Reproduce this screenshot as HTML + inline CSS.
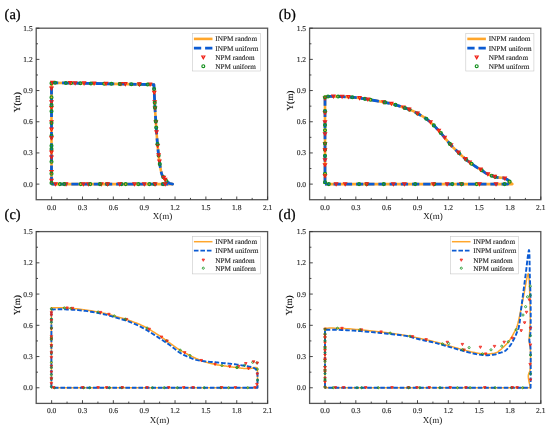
<!DOCTYPE html>
<html><head><meta charset="utf-8"><title>Figure</title>
<style>html,body{margin:0;padding:0;background:#fff}svg{display:block}svg text{text-rendering:geometricPrecision;font-family:"Liberation Serif","Times New Roman",serif}</style></head>
<body>
<svg width="550" height="429" viewBox="0 0 550 429">
<rect width="550" height="429" fill="#fff"/>
<g>
<path d="M51.5 184.1 L51.5 82.7 L153.9 84.6 L154.01 86.92 L154.15 89.99 L154.31 93.63 L154.49 97.7 L154.7 102.03 L154.92 106.46 L155.15 110.84 L155.4 115 L155.66 119.12 L155.94 123.44 L156.24 127.86 L156.55 132.3 L156.87 136.68 L157.21 140.91 L157.55 144.91 L157.9 148.6 L158.26 152.04 L158.63 155.34 L159.01 158.48 L159.41 161.44 L159.8 164.19 L160.2 166.72 L160.6 168.99 L161 171 L161.39 172.66 L161.76 173.97 L162.14 175.01 L162.52 175.82 L162.91 176.5 L163.31 177.11 L163.74 177.72 L164.2 178.4 L164.7 179.11 L165.22 179.78 L165.78 180.41 L166.35 180.98 L166.93 181.51 L167.5 181.99 L168.06 182.42 L168.6 182.8 L169.15 183.12 L169.72 183.37 L170.31 183.57 L170.88 183.73 L171.41 183.84 L171.89 183.94 L172.29 184.02 L172.6 184.1 L51.5 184.1" fill="none" stroke="#FFA62B" stroke-width="2.6" stroke-linejoin="round" stroke-linecap="butt"/>
<path d="M51.5 184.1 L51.5 82.7 L153.9 84.6 L154.01 86.92 L154.15 89.99 L154.31 93.63 L154.49 97.7 L154.7 102.03 L154.92 106.46 L155.15 110.84 L155.4 115 L155.66 119.12 L155.94 123.44 L156.24 127.86 L156.55 132.3 L156.87 136.68 L157.21 140.91 L157.55 144.91 L157.9 148.6 L158.26 152.04 L158.63 155.34 L159.01 158.48 L159.41 161.44 L159.8 164.19 L160.2 166.72 L160.6 168.99 L161 171 L161.39 172.66 L161.76 173.97 L162.14 175.01 L162.52 175.82 L162.91 176.5 L163.31 177.11 L163.74 177.72 L164.2 178.4 L164.7 179.11 L165.22 179.78 L165.78 180.41 L166.35 180.98 L166.93 181.51 L167.5 181.99 L168.06 182.42 L168.6 182.8 L169.15 183.12 L169.72 183.37 L170.31 183.57 L170.88 183.73 L171.41 183.84 L171.89 183.94 L172.29 184.02 L172.6 184.1 L51.5 184.1" fill="none" stroke="#0B5BD3" stroke-width="2.8" stroke-dasharray="7.3 3.9" stroke-linejoin="round"/>
<circle cx="51.5" cy="161.68" r="1.45" fill="none" stroke="#14901E" stroke-width="1.2"/>
<circle cx="158.64" cy="155.45" r="1.45" fill="none" stroke="#14901E" stroke-width="1.2"/>
<circle cx="51.5" cy="149.12" r="1.45" fill="none" stroke="#14901E" stroke-width="1.2"/>
<circle cx="51.5" cy="135.7" r="1.45" fill="none" stroke="#14901E" stroke-width="1.2"/>
<path d="M99.75 182.7 L102.85 182.7 L101.3 185.5 Z" fill="none" stroke="#F01E14" stroke-width="1.15" stroke-linejoin="miter"/>
<path d="M49.95 106.59 L53.05 106.59 L51.5 109.38 Z" fill="none" stroke="#F01E14" stroke-width="1.15" stroke-linejoin="miter"/>
<path d="M153.48 107.1 L156.58 107.1 L155.03 109.89 Z" fill="none" stroke="#F01E14" stroke-width="1.15" stroke-linejoin="miter"/>
<circle cx="154.54" cy="184.1" r="1.45" fill="none" stroke="#14901E" stroke-width="1.2"/>
<path d="M123.81 82.68 L126.91 82.68 L125.36 85.47 Z" fill="none" stroke="#F01E14" stroke-width="1.15" stroke-linejoin="miter"/>
<path d="M119.42 82.59 L122.52 82.59 L120.97 85.38 Z" fill="none" stroke="#F01E14" stroke-width="1.15" stroke-linejoin="miter"/>
<circle cx="80.73" cy="184.1" r="1.45" fill="none" stroke="#14901E" stroke-width="1.2"/>
<circle cx="154.98" cy="107.62" r="1.45" fill="none" stroke="#14901E" stroke-width="1.2"/>
<circle cx="107.35" cy="184.1" r="1.45" fill="none" stroke="#14901E" stroke-width="1.2"/>
<path d="M142.74 182.7 L145.84 182.7 L144.29 185.5 Z" fill="none" stroke="#F01E14" stroke-width="1.15" stroke-linejoin="miter"/>
<circle cx="125.66" cy="184.1" r="1.45" fill="none" stroke="#14901E" stroke-width="1.2"/>
<circle cx="163.08" cy="184.1" r="1.45" fill="none" stroke="#14901E" stroke-width="1.2"/>
<path d="M86.86 182.7 L89.96 182.7 L88.41 185.5 Z" fill="none" stroke="#F01E14" stroke-width="1.15" stroke-linejoin="miter"/>
<path d="M49.95 136.75 L53.05 136.75 L51.5 139.54 Z" fill="none" stroke="#F01E14" stroke-width="1.15" stroke-linejoin="miter"/>
<circle cx="121.43" cy="184.1" r="1.45" fill="none" stroke="#14901E" stroke-width="1.2"/>
<circle cx="154.11" cy="89.09" r="1.45" fill="none" stroke="#14901E" stroke-width="1.2"/>
<path d="M82.51 81.91 L85.61 81.91 L84.06 84.7 Z" fill="none" stroke="#F01E14" stroke-width="1.15" stroke-linejoin="miter"/>
<path d="M153.16 100.88 L156.26 100.88 L154.71 103.67 Z" fill="none" stroke="#F01E14" stroke-width="1.15" stroke-linejoin="miter"/>
<circle cx="90.3" cy="184.1" r="1.45" fill="none" stroke="#14901E" stroke-width="1.2"/>
<path d="M132.95 182.7 L136.05 182.7 L134.5 185.5 Z" fill="none" stroke="#F01E14" stroke-width="1.15" stroke-linejoin="miter"/>
<circle cx="139.54" cy="84.33" r="1.45" fill="none" stroke="#14901E" stroke-width="1.2"/>
<path d="M49.95 128.16 L53.05 128.16 L51.5 130.95 Z" fill="none" stroke="#F01E14" stroke-width="1.15" stroke-linejoin="miter"/>
<circle cx="163.21" cy="176.96" r="1.45" fill="none" stroke="#14901E" stroke-width="1.2"/>
<circle cx="166.42" cy="181.04" r="1.45" fill="none" stroke="#14901E" stroke-width="1.2"/>
<path d="M49.95 155.98 L53.05 155.98 L51.5 158.77 Z" fill="none" stroke="#F01E14" stroke-width="1.15" stroke-linejoin="miter"/>
<circle cx="71.11" cy="83.06" r="1.45" fill="none" stroke="#14901E" stroke-width="1.2"/>
<path d="M49.95 170.68 L53.05 170.68 L51.5 173.47 Z" fill="none" stroke="#F01E14" stroke-width="1.15" stroke-linejoin="miter"/>
<path d="M157.85 160.02 L160.95 160.02 L159.4 162.81 Z" fill="none" stroke="#F01E14" stroke-width="1.15" stroke-linejoin="miter"/>
<path d="M148.51 83.13 L151.61 83.13 L150.06 85.92 Z" fill="none" stroke="#F01E14" stroke-width="1.15" stroke-linejoin="miter"/>
<path d="M49.95 120.83 L53.05 120.83 L51.5 123.62 Z" fill="none" stroke="#F01E14" stroke-width="1.15" stroke-linejoin="miter"/>
<circle cx="119.76" cy="83.97" r="1.45" fill="none" stroke="#14901E" stroke-width="1.2"/>
<path d="M154.99 130.8 L158.09 130.8 L156.54 133.59 Z" fill="none" stroke="#F01E14" stroke-width="1.15" stroke-linejoin="miter"/>
<circle cx="156.22" cy="127.6" r="1.45" fill="none" stroke="#14901E" stroke-width="1.2"/>
<path d="M92.51 82.09 L95.61 82.09 L94.06 84.88 Z" fill="none" stroke="#F01E14" stroke-width="1.15" stroke-linejoin="miter"/>
<path d="M64.47 182.7 L67.57 182.7 L66.02 185.5 Z" fill="none" stroke="#F01E14" stroke-width="1.15" stroke-linejoin="miter"/>
<path d="M106.09 182.7 L109.19 182.7 L107.64 185.5 Z" fill="none" stroke="#F01E14" stroke-width="1.15" stroke-linejoin="miter"/>
<path d="M49.95 151.12 L53.05 151.12 L51.5 153.91 Z" fill="none" stroke="#F01E14" stroke-width="1.15" stroke-linejoin="miter"/>
<circle cx="147.57" cy="84.48" r="1.45" fill="none" stroke="#14901E" stroke-width="1.2"/>
<path d="M156.11 144.61 L159.21 144.61 L157.66 147.4 Z" fill="none" stroke="#F01E14" stroke-width="1.15" stroke-linejoin="miter"/>
<circle cx="65.86" cy="82.97" r="1.45" fill="none" stroke="#14901E" stroke-width="1.2"/>
<path d="M49.95 100.74 L53.05 100.74 L51.5 103.53 Z" fill="none" stroke="#F01E14" stroke-width="1.15" stroke-linejoin="miter"/>
<circle cx="51.5" cy="83.36" r="1.45" fill="none" stroke="#14901E" stroke-width="1.2"/>
<circle cx="104.21" cy="83.68" r="1.45" fill="none" stroke="#14901E" stroke-width="1.2"/>
<circle cx="131.34" cy="84.18" r="1.45" fill="none" stroke="#14901E" stroke-width="1.2"/>
<path d="M73.61 81.74 L76.71 81.74 L75.16 84.53 Z" fill="none" stroke="#F01E14" stroke-width="1.15" stroke-linejoin="miter"/>
<circle cx="80.39" cy="83.24" r="1.45" fill="none" stroke="#14901E" stroke-width="1.2"/>
<path d="M104.5 82.32 L107.6 82.32 L106.05 85.11 Z" fill="none" stroke="#F01E14" stroke-width="1.15" stroke-linejoin="miter"/>
<path d="M49.95 86.98 L53.05 86.98 L51.5 89.77 Z" fill="none" stroke="#F01E14" stroke-width="1.15" stroke-linejoin="miter"/>
<circle cx="159.79" cy="164.09" r="1.45" fill="none" stroke="#14901E" stroke-width="1.2"/>
<circle cx="51.5" cy="105.11" r="1.45" fill="none" stroke="#14901E" stroke-width="1.2"/>
<circle cx="51.5" cy="123.12" r="1.45" fill="none" stroke="#14901E" stroke-width="1.2"/>
<circle cx="51.5" cy="173.67" r="1.45" fill="none" stroke="#14901E" stroke-width="1.2"/>
<circle cx="111.4" cy="83.81" r="1.45" fill="none" stroke="#14901E" stroke-width="1.2"/>
<path d="M54 182.7 L57.1 182.7 L55.55 185.5 Z" fill="none" stroke="#F01E14" stroke-width="1.15" stroke-linejoin="miter"/>
<circle cx="59.91" cy="184.1" r="1.45" fill="none" stroke="#14901E" stroke-width="1.2"/>
<path d="M49.95 179.24 L53.05 179.24 L51.5 182.03 Z" fill="none" stroke="#F01E14" stroke-width="1.15" stroke-linejoin="miter"/>
<path d="M163.61 182.7 L166.71 182.7 L165.16 185.5 Z" fill="none" stroke="#F01E14" stroke-width="1.15" stroke-linejoin="miter"/>
<path d="M152.72 91.26 L155.82 91.26 L154.27 94.05 Z" fill="none" stroke="#F01E14" stroke-width="1.15" stroke-linejoin="miter"/>
<circle cx="51.5" cy="145.74" r="1.45" fill="none" stroke="#14901E" stroke-width="1.2"/>
<path d="M118.14 182.7 L121.24 182.7 L119.69 185.5 Z" fill="none" stroke="#F01E14" stroke-width="1.15" stroke-linejoin="miter"/>
<path d="M68.61 81.65 L71.71 81.65 L70.16 84.44 Z" fill="none" stroke="#F01E14" stroke-width="1.15" stroke-linejoin="miter"/>
<circle cx="99.93" cy="184.1" r="1.45" fill="none" stroke="#14901E" stroke-width="1.2"/>
<circle cx="51.5" cy="97.38" r="1.45" fill="none" stroke="#14901E" stroke-width="1.2"/>
<path d="M137.74 82.93 L140.84 82.93 L139.29 85.72 Z" fill="none" stroke="#F01E14" stroke-width="1.15" stroke-linejoin="miter"/>
<path d="M157.06 153.72 L160.16 153.72 L158.61 156.51 Z" fill="none" stroke="#F01E14" stroke-width="1.15" stroke-linejoin="miter"/>
<path d="M154.31 120.75 L157.41 120.75 L155.86 123.54 Z" fill="none" stroke="#F01E14" stroke-width="1.15" stroke-linejoin="miter"/>
<circle cx="154.74" cy="102.83" r="1.45" fill="none" stroke="#14901E" stroke-width="1.2"/>
<circle cx="149.33" cy="184.1" r="1.45" fill="none" stroke="#14901E" stroke-width="1.2"/>
<circle cx="138.32" cy="184.1" r="1.45" fill="none" stroke="#14901E" stroke-width="1.2"/>
<circle cx="155.8" cy="121.34" r="1.45" fill="none" stroke="#14901E" stroke-width="1.2"/>
<circle cx="51.5" cy="111.25" r="1.45" fill="none" stroke="#14901E" stroke-width="1.2"/>
<circle cx="90.93" cy="83.43" r="1.45" fill="none" stroke="#14901E" stroke-width="1.2"/>
<path d="M81.83 182.7 L84.93 182.7 L83.38 185.5 Z" fill="none" stroke="#F01E14" stroke-width="1.15" stroke-linejoin="miter"/>
<path d="M163.6 178.3 L166.7 178.3 L165.15 181.09 Z" fill="none" stroke="#F01E14" stroke-width="1.15" stroke-linejoin="miter"/>
<circle cx="157.48" cy="144.05" r="1.45" fill="none" stroke="#14901E" stroke-width="1.2"/>
<path d="M50.89 81.32 L53.99 81.32 L52.44 84.11 Z" fill="none" stroke="#F01E14" stroke-width="1.15" stroke-linejoin="miter"/>
<circle cx="51.5" cy="183.06" r="1.45" fill="none" stroke="#14901E" stroke-width="1.2"/>
<path d="M153.6 182.7 L156.7 182.7 L155.15 185.5 Z" fill="none" stroke="#F01E14" stroke-width="1.15" stroke-linejoin="miter"/>
<circle cx="64.2" cy="184.1" r="1.45" fill="none" stroke="#14901E" stroke-width="1.2"/>
<path d="M162.23 176.38 L165.33 176.38 L163.78 179.17 Z" fill="none" stroke="#F01E14" stroke-width="1.15" stroke-linejoin="miter"/>
<circle cx="55.09" cy="82.77" r="1.45" fill="none" stroke="#14901E" stroke-width="1.2"/>
<rect x="36.2" y="28.2" width="231.4" height="171.5" fill="none" stroke="#555" stroke-width="1.3"/>
<text x="51.63" y="209.5" font-size="7.5" text-anchor="middle" fill="#2a2a2a" stroke="#2a2a2a" stroke-width="0.15">0.0</text>
<text x="82.48" y="209.5" font-size="7.5" text-anchor="middle" fill="#2a2a2a" stroke="#2a2a2a" stroke-width="0.15">0.3</text>
<text x="113.33" y="209.5" font-size="7.5" text-anchor="middle" fill="#2a2a2a" stroke="#2a2a2a" stroke-width="0.15">0.6</text>
<text x="144.19" y="209.5" font-size="7.5" text-anchor="middle" fill="#2a2a2a" stroke="#2a2a2a" stroke-width="0.15">0.9</text>
<text x="175.04" y="209.5" font-size="7.5" text-anchor="middle" fill="#2a2a2a" stroke="#2a2a2a" stroke-width="0.15">1.2</text>
<text x="205.89" y="209.5" font-size="7.5" text-anchor="middle" fill="#2a2a2a" stroke="#2a2a2a" stroke-width="0.15">1.5</text>
<text x="236.75" y="209.5" font-size="7.5" text-anchor="middle" fill="#2a2a2a" stroke="#2a2a2a" stroke-width="0.15">1.8</text>
<text x="267.6" y="209.5" font-size="7.5" text-anchor="middle" fill="#2a2a2a" stroke="#2a2a2a" stroke-width="0.15">2.1</text>
<text x="32.7" y="186.61" font-size="7.5" text-anchor="end" fill="#2a2a2a" stroke="#2a2a2a" stroke-width="0.15">0.0</text>
<text x="32.7" y="155.43" font-size="7.5" text-anchor="end" fill="#2a2a2a" stroke="#2a2a2a" stroke-width="0.15">0.3</text>
<text x="32.7" y="124.25" font-size="7.5" text-anchor="end" fill="#2a2a2a" stroke="#2a2a2a" stroke-width="0.15">0.6</text>
<text x="32.7" y="93.06" font-size="7.5" text-anchor="end" fill="#2a2a2a" stroke="#2a2a2a" stroke-width="0.15">0.9</text>
<text x="32.7" y="61.88" font-size="7.5" text-anchor="end" fill="#2a2a2a" stroke="#2a2a2a" stroke-width="0.15">1.2</text>
<text x="32.7" y="30.7" font-size="7.5" text-anchor="end" fill="#2a2a2a" stroke="#2a2a2a" stroke-width="0.15">1.5</text>
<path d="M51.63 199.7 v-3.2 M67.05 199.7 v-1.8 M82.48 199.7 v-3.2 M97.91 199.7 v-1.8 M113.33 199.7 v-3.2 M128.76 199.7 v-1.8 M144.19 199.7 v-3.2 M159.61 199.7 v-1.8 M175.04 199.7 v-3.2 M190.47 199.7 v-1.8 M205.89 199.7 v-3.2 M221.32 199.7 v-1.8 M236.75 199.7 v-3.2 M252.17 199.7 v-1.8 M267.6 199.7 v-3.2 M36.2 184.11 h3.2 M36.2 168.52 h1.8 M36.2 152.93 h3.2 M36.2 137.34 h1.8 M36.2 121.75 h3.2 M36.2 106.15 h1.8 M36.2 90.56 h3.2 M36.2 74.97 h1.8 M36.2 59.38 h3.2 M36.2 43.79 h1.8 M36.2 28.2 h3.2" stroke="#333" stroke-width="0.9" fill="none"/>
<text x="162.4" y="218.7" font-size="9" text-anchor="middle" fill="#111">X(m)</text>
<text transform="translate(19.6 102.2) rotate(-90)" font-size="9.2" text-anchor="middle" fill="#000" stroke="#000" stroke-width="0.1">Y(m)</text>
<text x="4.6" y="19.4" font-size="14.5" fill="#000" stroke="#000" stroke-width="0.25">(a)</text>
<rect x="192.4" y="33.5" width="68.1" height="37.5" fill="#fff" stroke="#c8c8c8" stroke-width="0.6"/>
<path d="M193.9 38.9 h18.6" stroke="#FFA62B" stroke-width="2.6"/>
<path d="M193.9 48.1 h18.6" stroke="#0B5BD3" stroke-width="2.8" stroke-dasharray="7.3 3.9"/>
<path d="M201.75 56 L204.85 56 L203.3 58.8 Z" fill="none" stroke="#F01E14" stroke-width="1.15" stroke-linejoin="miter"/>
<circle cx="203.3" cy="66.2" r="1.45" fill="none" stroke="#14901E" stroke-width="1.2"/>
<text x="215.3" y="41.3" font-size="7.2" fill="#222" stroke="#222" stroke-width="0.12">INPM random</text>
<text x="215.3" y="50.5" font-size="7.2" fill="#222" stroke="#222" stroke-width="0.12">INPM uniform</text>
<text x="215.3" y="59.8" font-size="7.2" fill="#222" stroke="#222" stroke-width="0.12">NPM random</text>
<text x="215.3" y="68.6" font-size="7.2" fill="#222" stroke="#222" stroke-width="0.12">NPM uniform</text>
</g>
<g>
<path d="M325 184.1 L325 96.6 L325.89 96.49 L327.18 96.47 L328.7 96.45 L330.41 96.42 L332.27 96.41 L334.22 96.42 L336.21 96.44 L338.2 96.5 L340.24 96.58 L342.41 96.68 L344.67 96.79 L347 96.93 L349.37 97.08 L351.74 97.26 L354.1 97.47 L356.4 97.7 L358.67 97.97 L360.93 98.27 L363.19 98.6 L365.45 98.95 L367.71 99.32 L369.97 99.71 L372.23 100.1 L374.5 100.5 L376.78 100.9 L379.06 101.29 L381.36 101.7 L383.65 102.12 L385.94 102.56 L388.21 103.03 L390.47 103.54 L392.7 104.1 L394.97 104.72 L397.3 105.41 L399.65 106.15 L401.98 106.92 L404.22 107.69 L406.34 108.44 L408.28 109.15 L410 109.8 L411.46 110.38 L412.69 110.92 L413.75 111.42 L414.68 111.9 L415.53 112.37 L416.37 112.86 L417.24 113.36 L418.2 113.9 L419.22 114.46 L420.23 115.01 L421.24 115.57 L422.25 116.15 L423.26 116.75 L424.27 117.39 L425.28 118.07 L426.3 118.8 L427.32 119.59 L428.35 120.42 L429.37 121.29 L430.4 122.19 L431.43 123.13 L432.45 124.1 L433.48 125.09 L434.5 126.1 L435.52 127.14 L436.53 128.21 L437.54 129.32 L438.55 130.44 L439.56 131.59 L440.57 132.75 L441.58 133.93 L442.6 135.1 L443.62 136.3 L444.65 137.53 L445.67 138.79 L446.7 140.06 L447.73 141.31 L448.75 142.55 L449.78 143.75 L450.8 144.9 L451.82 146 L452.83 147.06 L453.84 148.09 L454.85 149.1 L455.86 150.09 L456.87 151.06 L457.88 152.03 L458.9 153 L459.92 153.97 L460.94 154.93 L461.96 155.88 L462.98 156.83 L464.01 157.75 L465.03 158.66 L466.06 159.54 L467.1 160.4 L468.16 161.24 L469.26 162.08 L470.37 162.91 L471.48 163.71 L472.56 164.48 L473.61 165.21 L474.59 165.89 L475.5 166.5 L476.32 167.03 L477.06 167.49 L477.74 167.89 L478.38 168.24 L479 168.58 L479.61 168.93 L480.24 169.29 L480.9 169.7 L481.58 170.16 L482.27 170.65 L482.96 171.15 L483.65 171.66 L484.34 172.17 L485.03 172.65 L485.72 173.1 L486.4 173.5 L487.08 173.85 L487.75 174.17 L488.43 174.46 L489.1 174.73 L489.77 174.98 L490.45 175.22 L491.12 175.46 L491.8 175.7 L492.48 175.94 L493.17 176.19 L493.86 176.43 L494.55 176.66 L495.24 176.87 L495.93 177.07 L496.62 177.25 L497.3 177.4 L497.99 177.51 L498.68 177.58 L499.38 177.63 L500.07 177.66 L500.75 177.68 L501.42 177.73 L502.07 177.79 L502.7 177.9 L503.31 178.04 L503.9 178.19 L504.48 178.37 L505.04 178.56 L505.58 178.76 L506.11 178.99 L506.61 179.24 L507.1 179.5 L507.57 179.8 L508.01 180.14 L508.44 180.51 L508.85 180.89 L509.24 181.27 L509.61 181.64 L509.97 181.99 L510.3 182.3 L510.62 182.59 L510.93 182.86 L511.23 183.13 L511.5 183.38 L511.75 183.6 L511.97 183.8 L512.15 183.97 L512.3 184.1 L325 184.1" fill="none" stroke="#FFA62B" stroke-width="2.6" stroke-linejoin="round" stroke-linecap="butt"/>
<path d="M325 184.1 L325 96.6 L325.89 96.49 L327.18 96.47 L328.7 96.45 L330.41 96.42 L332.27 96.41 L334.22 96.42 L336.21 96.44 L338.2 96.5 L340.24 96.58 L342.41 96.68 L344.67 96.79 L347 96.93 L349.37 97.08 L351.74 97.26 L354.1 97.47 L356.4 97.7 L358.67 97.97 L360.93 98.27 L363.19 98.6 L365.45 98.95 L367.71 99.32 L369.97 99.71 L372.23 100.1 L374.5 100.5 L376.78 100.9 L379.06 101.29 L381.36 101.7 L383.65 102.12 L385.94 102.56 L388.21 103.03 L390.47 103.54 L392.7 104.1 L394.97 104.72 L397.3 105.41 L399.65 106.15 L401.98 106.92 L404.22 107.69 L406.34 108.44 L408.28 109.15 L410 109.8 L411.46 110.38 L412.69 110.92 L413.75 111.42 L414.68 111.9 L415.53 112.37 L416.37 112.86 L417.24 113.36 L418.2 113.9 L419.22 114.46 L420.23 115.01 L421.24 115.57 L422.25 116.15 L423.26 116.75 L424.27 117.39 L425.28 118.07 L426.3 118.8 L427.32 119.59 L428.35 120.42 L429.37 121.29 L430.4 122.19 L431.43 123.13 L432.45 124.1 L433.48 125.09 L434.5 126.1 L435.52 127.14 L436.53 128.21 L437.54 129.32 L438.55 130.44 L439.56 131.59 L440.57 132.75 L441.58 133.93 L442.6 135.1 L443.62 136.3 L444.65 137.53 L445.67 138.79 L446.7 140.06 L447.73 141.31 L448.75 142.55 L449.78 143.75 L450.8 144.9 L451.82 146 L452.83 147.06 L453.84 148.09 L454.85 149.1 L455.86 150.09 L456.87 151.06 L457.88 152.03 L458.9 153 L459.92 153.97 L460.94 154.93 L461.96 155.88 L462.98 156.83 L464.01 157.75 L465.03 158.66 L466.06 159.54 L467.1 160.4 L468.16 161.24 L469.26 162.08 L470.37 162.91 L471.48 163.71 L472.56 164.48 L473.61 165.21 L474.59 165.89 L475.5 166.5 L476.32 167.03 L477.06 167.49 L477.74 167.89 L478.38 168.24 L479 168.58 L479.61 168.93 L480.24 169.29 L480.9 169.7 L481.58 170.16 L482.27 170.65 L482.96 171.15 L483.65 171.66 L484.34 172.17 L485.03 172.65 L485.72 173.1 L486.4 173.5 L487.08 173.85 L487.75 174.17 L488.43 174.46 L489.1 174.73 L489.77 174.98 L490.45 175.22 L491.12 175.46 L491.8 175.7 L492.48 175.94 L493.17 176.19 L493.86 176.43 L494.55 176.66 L495.24 176.87 L495.93 177.07 L496.62 177.25 L497.3 177.4 L497.99 177.51 L498.68 177.58 L499.38 177.63 L500.07 177.66 L500.75 177.68 L501.42 177.73 L502.07 177.79 L502.7 177.9 L503.31 178.04 L503.9 178.19 L504.48 178.37 L505.04 178.56 L505.58 178.76 L506.11 178.99 L506.61 179.24 L507.1 179.5 L507.57 179.8 L508.01 180.14 L508.44 180.51 L508.85 180.89 L509.24 181.27 L509.61 181.64 L509.97 181.99 L510.3 182.3 L507.6 184.1 L325 184.1" fill="none" stroke="#0B5BD3" stroke-width="2.8" stroke-dasharray="7.3 3.9" stroke-linejoin="round"/>
<path d="M503.23 177.07 L506.33 177.07 L504.78 179.86 Z" fill="none" stroke="#F01E14" stroke-width="1.15" stroke-linejoin="miter"/>
<path d="M323.45 132.71 L326.55 132.71 L325 135.5 Z" fill="none" stroke="#F01E14" stroke-width="1.15" stroke-linejoin="miter"/>
<circle cx="476.67" cy="184.1" r="1.45" fill="none" stroke="#14901E" stroke-width="1.2"/>
<circle cx="452.31" cy="184.1" r="1.45" fill="none" stroke="#14901E" stroke-width="1.2"/>
<circle cx="325" cy="130.25" r="1.45" fill="none" stroke="#14901E" stroke-width="1.2"/>
<path d="M449.47 143.75 L452.57 143.75 L451.02 146.54 Z" fill="none" stroke="#F01E14" stroke-width="1.15" stroke-linejoin="miter"/>
<path d="M323.45 120.89 L326.55 120.89 L325 123.68 Z" fill="none" stroke="#F01E14" stroke-width="1.15" stroke-linejoin="miter"/>
<circle cx="325" cy="149.82" r="1.45" fill="none" stroke="#14901E" stroke-width="1.2"/>
<circle cx="415.17" cy="184.1" r="1.45" fill="none" stroke="#14901E" stroke-width="1.2"/>
<circle cx="509.61" cy="181.64" r="1.45" fill="none" stroke="#14901E" stroke-width="1.2"/>
<circle cx="433.82" cy="125.42" r="1.45" fill="none" stroke="#14901E" stroke-width="1.2"/>
<path d="M486.35 172.84 L489.45 172.84 L487.9 175.63 Z" fill="none" stroke="#F01E14" stroke-width="1.15" stroke-linejoin="miter"/>
<circle cx="352.33" cy="97.31" r="1.45" fill="none" stroke="#14901E" stroke-width="1.2"/>
<path d="M323.45 142.58 L326.55 142.58 L325 145.37 Z" fill="none" stroke="#F01E14" stroke-width="1.15" stroke-linejoin="miter"/>
<path d="M459.71 182.7 L462.81 182.7 L461.26 185.5 Z" fill="none" stroke="#F01E14" stroke-width="1.15" stroke-linejoin="miter"/>
<path d="M323.45 111.85 L326.55 111.85 L325 114.64 Z" fill="none" stroke="#F01E14" stroke-width="1.15" stroke-linejoin="miter"/>
<path d="M401.85 106.01 L404.95 106.01 L403.4 108.8 Z" fill="none" stroke="#F01E14" stroke-width="1.15" stroke-linejoin="miter"/>
<circle cx="491.74" cy="175.68" r="1.45" fill="none" stroke="#14901E" stroke-width="1.2"/>
<path d="M445.57 182.7 L448.67 182.7 L447.12 185.5 Z" fill="none" stroke="#F01E14" stroke-width="1.15" stroke-linejoin="miter"/>
<path d="M443.15 136.21 L446.25 136.21 L444.7 139 Z" fill="none" stroke="#F01E14" stroke-width="1.15" stroke-linejoin="miter"/>
<circle cx="359.06" cy="184.1" r="1.45" fill="none" stroke="#14901E" stroke-width="1.2"/>
<circle cx="426.33" cy="118.82" r="1.45" fill="none" stroke="#14901E" stroke-width="1.2"/>
<circle cx="481.59" cy="170.16" r="1.45" fill="none" stroke="#14901E" stroke-width="1.2"/>
<path d="M358 96.69 L361.1 96.69 L359.55 99.48 Z" fill="none" stroke="#F01E14" stroke-width="1.15" stroke-linejoin="miter"/>
<circle cx="325" cy="173.69" r="1.45" fill="none" stroke="#14901E" stroke-width="1.2"/>
<circle cx="404.94" cy="107.94" r="1.45" fill="none" stroke="#14901E" stroke-width="1.2"/>
<path d="M334.57 182.7 L337.67 182.7 L336.12 185.5 Z" fill="none" stroke="#F01E14" stroke-width="1.15" stroke-linejoin="miter"/>
<circle cx="440.82" cy="133.04" r="1.45" fill="none" stroke="#14901E" stroke-width="1.2"/>
<path d="M381.96 100.7 L385.06 100.7 L383.51 103.49 Z" fill="none" stroke="#F01E14" stroke-width="1.15" stroke-linejoin="miter"/>
<circle cx="366.66" cy="184.1" r="1.45" fill="none" stroke="#14901E" stroke-width="1.2"/>
<circle cx="328.86" cy="184.1" r="1.45" fill="none" stroke="#14901E" stroke-width="1.2"/>
<circle cx="328" cy="96.46" r="1.45" fill="none" stroke="#14901E" stroke-width="1.2"/>
<path d="M478.99 168.08 L482.09 168.08 L480.54 170.87 Z" fill="none" stroke="#F01E14" stroke-width="1.15" stroke-linejoin="miter"/>
<circle cx="338.08" cy="96.5" r="1.45" fill="none" stroke="#14901E" stroke-width="1.2"/>
<path d="M323.45 174.79 L326.55 174.79 L325 177.58 Z" fill="none" stroke="#F01E14" stroke-width="1.15" stroke-linejoin="miter"/>
<circle cx="325" cy="155.85" r="1.45" fill="none" stroke="#14901E" stroke-width="1.2"/>
<path d="M428.93 120.88 L432.03 120.88 L430.48 123.67 Z" fill="none" stroke="#F01E14" stroke-width="1.15" stroke-linejoin="miter"/>
<circle cx="461.69" cy="184.1" r="1.45" fill="none" stroke="#14901E" stroke-width="1.2"/>
<circle cx="370.44" cy="99.79" r="1.45" fill="none" stroke="#14901E" stroke-width="1.2"/>
<circle cx="395.46" cy="104.87" r="1.45" fill="none" stroke="#14901E" stroke-width="1.2"/>
<circle cx="325" cy="182.2" r="1.45" fill="none" stroke="#14901E" stroke-width="1.2"/>
<path d="M343.59 182.7 L346.69 182.7 L345.14 185.5 Z" fill="none" stroke="#F01E14" stroke-width="1.15" stroke-linejoin="miter"/>
<circle cx="449.9" cy="143.89" r="1.45" fill="none" stroke="#14901E" stroke-width="1.2"/>
<path d="M477.9 182.7 L481 182.7 L479.45 185.5 Z" fill="none" stroke="#F01E14" stroke-width="1.15" stroke-linejoin="miter"/>
<circle cx="466.09" cy="159.56" r="1.45" fill="none" stroke="#14901E" stroke-width="1.2"/>
<path d="M463.83 157.56 L466.93 157.56 L465.38 160.35 Z" fill="none" stroke="#F01E14" stroke-width="1.15" stroke-linejoin="miter"/>
<circle cx="495.2" cy="176.86" r="1.45" fill="none" stroke="#14901E" stroke-width="1.2"/>
<circle cx="364.95" cy="98.87" r="1.45" fill="none" stroke="#14901E" stroke-width="1.2"/>
<path d="M437.26 129.34 L440.36 129.34 L438.81 132.13 Z" fill="none" stroke="#F01E14" stroke-width="1.15" stroke-linejoin="miter"/>
<path d="M366.33 97.96 L369.43 97.96 L367.88 100.75 Z" fill="none" stroke="#F01E14" stroke-width="1.15" stroke-linejoin="miter"/>
<circle cx="409.46" cy="109.59" r="1.45" fill="none" stroke="#14901E" stroke-width="1.2"/>
<path d="M402.86 182.7 L405.96 182.7 L404.41 185.5 Z" fill="none" stroke="#F01E14" stroke-width="1.15" stroke-linejoin="miter"/>
<path d="M323.45 97.19 L326.55 97.19 L325 99.98 Z" fill="none" stroke="#F01E14" stroke-width="1.15" stroke-linejoin="miter"/>
<circle cx="458.91" cy="153.01" r="1.45" fill="none" stroke="#14901E" stroke-width="1.2"/>
<path d="M407.6 108.09 L410.7 108.09 L409.15 110.88 Z" fill="none" stroke="#F01E14" stroke-width="1.15" stroke-linejoin="miter"/>
<path d="M468.15 161.02 L471.25 161.02 L469.7 163.81 Z" fill="none" stroke="#F01E14" stroke-width="1.15" stroke-linejoin="miter"/>
<circle cx="434.3" cy="184.1" r="1.45" fill="none" stroke="#14901E" stroke-width="1.2"/>
<path d="M346.81 95.62 L349.91 95.62 L348.36 98.41 Z" fill="none" stroke="#F01E14" stroke-width="1.15" stroke-linejoin="miter"/>
<path d="M493.16 175.31 L496.26 175.31 L494.71 178.1 Z" fill="none" stroke="#F01E14" stroke-width="1.15" stroke-linejoin="miter"/>
<circle cx="417.48" cy="113.5" r="1.45" fill="none" stroke="#14901E" stroke-width="1.2"/>
<circle cx="325" cy="125.04" r="1.45" fill="none" stroke="#14901E" stroke-width="1.2"/>
<path d="M431.88 182.7 L434.98 182.7 L433.43 185.5 Z" fill="none" stroke="#F01E14" stroke-width="1.15" stroke-linejoin="miter"/>
<path d="M331.84 95.02 L334.94 95.02 L333.39 97.81 Z" fill="none" stroke="#F01E14" stroke-width="1.15" stroke-linejoin="miter"/>
<path d="M391.83 182.7 L394.93 182.7 L393.38 185.5 Z" fill="none" stroke="#F01E14" stroke-width="1.15" stroke-linejoin="miter"/>
<path d="M456.81 151.09 L459.91 151.09 L458.36 153.88 Z" fill="none" stroke="#F01E14" stroke-width="1.15" stroke-linejoin="miter"/>
<path d="M323.45 148.82 L326.55 148.82 L325 151.61 Z" fill="none" stroke="#F01E14" stroke-width="1.15" stroke-linejoin="miter"/>
<path d="M415.95 112.11 L419.05 112.11 L417.5 114.9 Z" fill="none" stroke="#F01E14" stroke-width="1.15" stroke-linejoin="miter"/>
<path d="M389.84 102.38 L392.94 102.38 L391.39 105.17 Z" fill="none" stroke="#F01E14" stroke-width="1.15" stroke-linejoin="miter"/>
<circle cx="471.58" cy="163.79" r="1.45" fill="none" stroke="#14901E" stroke-width="1.2"/>
<circle cx="325" cy="97.27" r="1.45" fill="none" stroke="#14901E" stroke-width="1.2"/>
<path d="M365.2 182.7 L368.3 182.7 L366.75 185.5 Z" fill="none" stroke="#F01E14" stroke-width="1.15" stroke-linejoin="miter"/>
<circle cx="325" cy="143.44" r="1.45" fill="none" stroke="#14901E" stroke-width="1.2"/>
<path d="M323.45 163.81 L326.55 163.81 L325 166.6 Z" fill="none" stroke="#F01E14" stroke-width="1.15" stroke-linejoin="miter"/>
<path d="M323.45 158.7 L326.55 158.7 L325 161.49 Z" fill="none" stroke="#F01E14" stroke-width="1.15" stroke-linejoin="miter"/>
<circle cx="325" cy="110.94" r="1.45" fill="none" stroke="#14901E" stroke-width="1.2"/>
<circle cx="383.73" cy="184.1" r="1.45" fill="none" stroke="#14901E" stroke-width="1.2"/>
<circle cx="504.6" cy="184.1" r="1.45" fill="none" stroke="#14901E" stroke-width="1.2"/>
<path d="M340.57 95.27 L343.67 95.27 L342.12 98.06 Z" fill="none" stroke="#F01E14" stroke-width="1.15" stroke-linejoin="miter"/>
<circle cx="385.01" cy="102.38" r="1.45" fill="none" stroke="#14901E" stroke-width="1.2"/>
<path d="M494.48 182.7 L497.58 182.7 L496.03 185.5 Z" fill="none" stroke="#F01E14" stroke-width="1.15" stroke-linejoin="miter"/>
<rect x="309.6" y="28.2" width="231.2" height="171.5" fill="none" stroke="#555" stroke-width="1.3"/>
<text x="325.01" y="209.5" font-size="7.5" text-anchor="middle" fill="#2a2a2a" stroke="#2a2a2a" stroke-width="0.15">0.0</text>
<text x="355.84" y="209.5" font-size="7.5" text-anchor="middle" fill="#2a2a2a" stroke="#2a2a2a" stroke-width="0.15">0.3</text>
<text x="386.67" y="209.5" font-size="7.5" text-anchor="middle" fill="#2a2a2a" stroke="#2a2a2a" stroke-width="0.15">0.6</text>
<text x="417.49" y="209.5" font-size="7.5" text-anchor="middle" fill="#2a2a2a" stroke="#2a2a2a" stroke-width="0.15">0.9</text>
<text x="448.32" y="209.5" font-size="7.5" text-anchor="middle" fill="#2a2a2a" stroke="#2a2a2a" stroke-width="0.15">1.2</text>
<text x="479.15" y="209.5" font-size="7.5" text-anchor="middle" fill="#2a2a2a" stroke="#2a2a2a" stroke-width="0.15">1.5</text>
<text x="509.97" y="209.5" font-size="7.5" text-anchor="middle" fill="#2a2a2a" stroke="#2a2a2a" stroke-width="0.15">1.8</text>
<text x="540.8" y="209.5" font-size="7.5" text-anchor="middle" fill="#2a2a2a" stroke="#2a2a2a" stroke-width="0.15">2.1</text>
<text x="306.1" y="186.61" font-size="7.5" text-anchor="end" fill="#2a2a2a" stroke="#2a2a2a" stroke-width="0.15">0.0</text>
<text x="306.1" y="155.43" font-size="7.5" text-anchor="end" fill="#2a2a2a" stroke="#2a2a2a" stroke-width="0.15">0.3</text>
<text x="306.1" y="124.25" font-size="7.5" text-anchor="end" fill="#2a2a2a" stroke="#2a2a2a" stroke-width="0.15">0.6</text>
<text x="306.1" y="93.06" font-size="7.5" text-anchor="end" fill="#2a2a2a" stroke="#2a2a2a" stroke-width="0.15">0.9</text>
<text x="306.1" y="61.88" font-size="7.5" text-anchor="end" fill="#2a2a2a" stroke="#2a2a2a" stroke-width="0.15">1.2</text>
<text x="306.1" y="30.7" font-size="7.5" text-anchor="end" fill="#2a2a2a" stroke="#2a2a2a" stroke-width="0.15">1.5</text>
<path d="M325.01 199.7 v-3.2 M340.43 199.7 v-1.8 M355.84 199.7 v-3.2 M371.25 199.7 v-1.8 M386.67 199.7 v-3.2 M402.08 199.7 v-1.8 M417.49 199.7 v-3.2 M432.91 199.7 v-1.8 M448.32 199.7 v-3.2 M463.73 199.7 v-1.8 M479.15 199.7 v-3.2 M494.56 199.7 v-1.8 M509.97 199.7 v-3.2 M525.39 199.7 v-1.8 M540.8 199.7 v-3.2 M309.6 184.11 h3.2 M309.6 168.52 h1.8 M309.6 152.93 h3.2 M309.6 137.34 h1.8 M309.6 121.75 h3.2 M309.6 106.15 h1.8 M309.6 90.56 h3.2 M309.6 74.97 h1.8 M309.6 59.38 h3.2 M309.6 43.79 h1.8 M309.6 28.2 h3.2" stroke="#333" stroke-width="0.9" fill="none"/>
<text x="432.9" y="219" font-size="9" text-anchor="middle" fill="#111">X(m)</text>
<text transform="translate(293 100.6) rotate(-90)" font-size="9.2" text-anchor="middle" fill="#000" stroke="#000" stroke-width="0.1">Y(m)</text>
<text x="278.8" y="18.8" font-size="14.5" fill="#000" stroke="#000" stroke-width="0.25">(b)</text>
<rect x="465.8" y="33.5" width="68.1" height="37.5" fill="#fff" stroke="#c8c8c8" stroke-width="0.6"/>
<path d="M467.3 38.9 h18.6" stroke="#FFA62B" stroke-width="2.6"/>
<path d="M467.3 48.1 h18.6" stroke="#0B5BD3" stroke-width="2.8" stroke-dasharray="7.3 3.9"/>
<path d="M475.15 56 L478.25 56 L476.7 58.8 Z" fill="none" stroke="#F01E14" stroke-width="1.15" stroke-linejoin="miter"/>
<circle cx="476.7" cy="66.2" r="1.45" fill="none" stroke="#14901E" stroke-width="1.2"/>
<text x="488.7" y="41.3" font-size="7.2" fill="#222" stroke="#222" stroke-width="0.12">INPM random</text>
<text x="488.7" y="50.5" font-size="7.2" fill="#222" stroke="#222" stroke-width="0.12">INPM uniform</text>
<text x="488.7" y="59.8" font-size="7.2" fill="#222" stroke="#222" stroke-width="0.12">NPM random</text>
<text x="488.7" y="68.6" font-size="7.2" fill="#222" stroke="#222" stroke-width="0.12">NPM uniform</text>
</g>
<g>
<path d="M51.4 387.7 L51.4 307.8 L52.17 307.79 L53.17 307.78 L54.35 307.76 L55.69 307.74 L57.14 307.73 L58.66 307.73 L60.23 307.75 L61.8 307.8 L63.42 307.87 L65.16 307.96 L66.97 308.06 L68.84 308.18 L70.75 308.32 L72.66 308.46 L74.55 308.63 L76.4 308.8 L78.22 308.99 L80.03 309.19 L81.84 309.4 L83.65 309.63 L85.46 309.87 L87.27 310.13 L89.08 310.41 L90.9 310.7 L92.76 311.02 L94.67 311.37 L96.61 311.74 L98.54 312.12 L100.43 312.51 L102.24 312.89 L103.94 313.25 L105.5 313.6 L106.85 313.91 L108.01 314.19 L109.04 314.45 L110 314.71 L110.96 314.98 L111.99 315.27 L113.15 315.61 L114.5 316 L116.06 316.44 L117.76 316.93 L119.57 317.44 L121.46 317.99 L123.39 318.56 L125.33 319.15 L127.24 319.77 L129.1 320.4 L130.92 321.04 L132.73 321.68 L134.54 322.35 L136.35 323.03 L138.16 323.75 L139.97 324.51 L141.78 325.33 L143.6 326.2 L145.44 327.15 L147.31 328.18 L149.19 329.27 L151.07 330.39 L152.93 331.54 L154.74 332.69 L156.51 333.81 L158.2 334.9 L159.83 335.97 L161.41 337.05 L162.95 338.13 L164.44 339.2 L165.9 340.25 L167.31 341.27 L168.67 342.26 L170 343.2 L171.27 344.09 L172.46 344.94 L173.61 345.76 L174.72 346.55 L175.81 347.31 L176.89 348.06 L177.98 348.78 L179.1 349.5 L180.24 350.2 L181.38 350.88 L182.51 351.53 L183.65 352.17 L184.79 352.79 L185.92 353.4 L187.06 354 L188.2 354.6 L189.34 355.19 L190.47 355.78 L191.61 356.35 L192.75 356.91 L193.89 357.46 L195.03 357.99 L196.16 358.51 L197.3 359 L198.44 359.47 L199.58 359.93 L200.71 360.37 L201.85 360.79 L202.99 361.19 L204.13 361.58 L205.26 361.95 L206.4 362.3 L207.54 362.63 L208.68 362.95 L209.82 363.24 L210.96 363.52 L212.09 363.78 L213.23 364.03 L214.37 364.27 L215.5 364.5 L216.63 364.71 L217.75 364.91 L218.88 365.09 L220 365.26 L221.12 365.42 L222.25 365.58 L223.37 365.74 L224.5 365.9 L225.63 366.07 L226.77 366.24 L227.91 366.4 L229.04 366.57 L230.18 366.73 L231.32 366.89 L232.46 367.05 L233.6 367.2 L234.75 367.35 L235.92 367.51 L237.09 367.66 L238.26 367.81 L239.42 367.95 L240.55 368.09 L241.65 368.2 L242.7 368.3 L243.72 368.39 L244.72 368.47 L245.69 368.54 L246.64 368.59 L247.55 368.63 L248.41 368.65 L249.23 368.64 L250 368.6 L250.71 368.51 L251.37 368.36 L251.98 368.18 L252.56 367.98 L253.09 367.78 L253.59 367.61 L254.06 367.47 L254.5 367.4 L254.91 367.38 L255.29 367.38 L255.63 367.41 L255.94 367.47 L256.22 367.56 L256.48 367.67 L256.7 367.82 L256.9 368 L257.07 368.24 L257.19 368.55 L257.28 368.91 L257.35 369.29 L257.4 369.66 L257.43 370.01 L257.47 370.29 L257.5 370.5 L257.5 387.7 L51.4 387.7" fill="none" stroke="#FFA62B" stroke-width="1.5" stroke-linejoin="round" stroke-linecap="butt"/>
<path d="M51.4 387.7 L51.4 309.5 L52.17 309.48 L53.17 309.44 L54.35 309.4 L55.69 309.36 L57.14 309.32 L58.66 309.29 L60.23 309.28 L61.8 309.3 L63.42 309.34 L65.16 309.39 L66.97 309.45 L68.84 309.53 L70.75 309.62 L72.66 309.73 L74.55 309.86 L76.4 310 L78.22 310.16 L80.03 310.33 L81.84 310.51 L83.65 310.71 L85.46 310.93 L87.27 311.17 L89.08 311.42 L90.9 311.7 L92.76 312.01 L94.67 312.35 L96.61 312.71 L98.54 313.09 L100.43 313.48 L102.24 313.87 L103.94 314.24 L105.5 314.6 L106.85 314.93 L108.01 315.23 L109.04 315.51 L110 315.8 L110.96 316.1 L111.99 316.42 L113.15 316.79 L114.5 317.2 L116.06 317.66 L117.76 318.14 L119.57 318.66 L121.46 319.2 L123.39 319.78 L125.33 320.38 L127.24 321.02 L129.1 321.7 L130.92 322.41 L132.73 323.14 L134.54 323.91 L136.35 324.71 L138.16 325.55 L139.97 326.43 L141.78 327.34 L143.6 328.3 L145.44 329.33 L147.31 330.43 L149.19 331.59 L151.07 332.77 L152.93 333.97 L154.74 335.16 L156.51 336.31 L158.2 337.4 L159.83 338.44 L161.41 339.46 L162.95 340.46 L164.44 341.43 L165.9 342.39 L167.31 343.34 L168.67 344.27 L170 345.2 L171.27 346.13 L172.46 347.06 L173.61 347.98 L174.72 348.89 L175.81 349.77 L176.89 350.62 L177.98 351.44 L179.1 352.2 L180.24 352.92 L181.38 353.59 L182.51 354.24 L183.65 354.84 L184.79 355.42 L185.92 355.97 L187.06 356.5 L188.2 357 L189.34 357.48 L190.47 357.93 L191.61 358.36 L192.75 358.76 L193.89 359.14 L195.03 359.48 L196.16 359.81 L197.3 360.1 L198.44 360.36 L199.58 360.58 L200.71 360.78 L201.85 360.94 L202.99 361.09 L204.13 361.23 L205.26 361.37 L206.4 361.5 L207.54 361.63 L208.68 361.74 L209.82 361.84 L210.96 361.93 L212.09 362.02 L213.23 362.11 L214.37 362.2 L215.5 362.3 L216.63 362.41 L217.75 362.52 L218.88 362.63 L220 362.74 L221.12 362.86 L222.25 362.97 L223.37 363.09 L224.5 363.2 L225.63 363.31 L226.77 363.41 L227.91 363.52 L229.04 363.62 L230.18 363.73 L231.32 363.84 L232.46 363.96 L233.6 364.1 L234.75 364.25 L235.92 364.42 L237.09 364.59 L238.26 364.78 L239.42 364.96 L240.55 365.15 L241.65 365.33 L242.7 365.5 L243.72 365.67 L244.72 365.83 L245.69 365.99 L246.64 366.14 L247.55 366.3 L248.41 366.46 L249.23 366.63 L250 366.8 L250.71 366.97 L251.37 367.13 L251.98 367.3 L252.55 367.46 L253.08 367.64 L253.58 367.84 L254.05 368.05 L254.5 368.3 L254.92 368.57 L255.31 368.86 L255.67 369.17 L256 369.49 L256.3 369.84 L256.56 370.21 L256.8 370.59 L257 371 L257.16 371.47 L257.28 372 L257.36 372.58 L257.41 373.17 L257.44 373.74 L257.46 374.25 L257.48 374.68 L257.5 375 L257.5 387.7 L51.4 387.7" fill="none" stroke="#0B5BD3" stroke-width="1.9" stroke-dasharray="4.6 1.9" stroke-linejoin="round"/>
<circle cx="51.4" cy="318.99" r="1.05" fill="none" stroke="#14901E" stroke-width="0.8"/>
<circle cx="221.95" cy="365.53" r="1.05" fill="none" stroke="#14901E" stroke-width="0.8"/>
<path d="M191.82 386.57 L194.32 386.57 L193.07 388.82 Z" fill="#F01E14" fill-opacity="0.6" stroke="#F01E14" stroke-width="0.8"/>
<path d="M50.15 338.03 L52.65 338.03 L51.4 340.28 Z" fill="#F01E14" fill-opacity="0.6" stroke="#F01E14" stroke-width="0.8"/>
<path d="M244.55 362.57 L247.05 362.57 L245.8 364.82 Z" fill="#F01E14" fill-opacity="0.6" stroke="#F01E14" stroke-width="0.8"/>
<circle cx="71.08" cy="308.34" r="1.05" fill="none" stroke="#14901E" stroke-width="0.8"/>
<circle cx="166.62" cy="340.78" r="1.05" fill="none" stroke="#14901E" stroke-width="0.8"/>
<path d="M50.15 327.86 L52.65 327.86 L51.4 330.11 Z" fill="#F01E14" fill-opacity="0.6" stroke="#F01E14" stroke-width="0.8"/>
<path d="M50.15 365.18 L52.65 365.18 L51.4 367.43 Z" fill="#F01E14" fill-opacity="0.6" stroke="#F01E14" stroke-width="0.8"/>
<path d="M213.82 363.29 L216.32 363.29 L215.07 365.54 Z" fill="#F01E14" fill-opacity="0.6" stroke="#F01E14" stroke-width="0.8"/>
<path d="M256.05 372.98 L258.55 372.98 L257.3 375.23 Z" fill="#F01E14" fill-opacity="0.6" stroke="#F01E14" stroke-width="0.8"/>
<circle cx="51.4" cy="352.96" r="1.05" fill="none" stroke="#14901E" stroke-width="0.8"/>
<circle cx="114.25" cy="315.93" r="1.05" fill="none" stroke="#14901E" stroke-width="0.8"/>
<path d="M50.15 319.59 L52.65 319.59 L51.4 321.84 Z" fill="#F01E14" fill-opacity="0.6" stroke="#F01E14" stroke-width="0.8"/>
<circle cx="147.09" cy="328.06" r="1.05" fill="none" stroke="#14901E" stroke-width="0.8"/>
<path d="M107.67 313.29 L110.17 313.29 L108.92 315.54 Z" fill="#F01E14" fill-opacity="0.6" stroke="#F01E14" stroke-width="0.8"/>
<circle cx="244.5" cy="365.4" r="1.05" fill="none" stroke="#14901E" stroke-width="0.8"/>
<path d="M247.29 367.52 L249.79 367.52 L248.54 369.77 Z" fill="#F01E14" fill-opacity="0.6" stroke="#F01E14" stroke-width="0.8"/>
<path d="M237.45 365.38 L239.95 365.38 L238.7 367.62 Z" fill="#F01E14" fill-opacity="0.6" stroke="#F01E14" stroke-width="0.8"/>
<circle cx="257.6" cy="380.1" r="1.05" fill="none" stroke="#14901E" stroke-width="0.8"/>
<path d="M234.11 386.57 L236.61 386.57 L235.36 388.82 Z" fill="#F01E14" fill-opacity="0.6" stroke="#F01E14" stroke-width="0.8"/>
<circle cx="247.82" cy="387.7" r="1.05" fill="none" stroke="#14901E" stroke-width="0.8"/>
<path d="M167.51 386.57 L170.01 386.57 L168.76 388.82 Z" fill="#F01E14" fill-opacity="0.6" stroke="#F01E14" stroke-width="0.8"/>
<path d="M105.33 386.57 L107.83 386.57 L106.58 388.82 Z" fill="#F01E14" fill-opacity="0.6" stroke="#F01E14" stroke-width="0.8"/>
<circle cx="220.91" cy="387.7" r="1.05" fill="none" stroke="#14901E" stroke-width="0.8"/>
<path d="M50.15 356.48 L52.65 356.48 L51.4 358.73 Z" fill="#F01E14" fill-opacity="0.6" stroke="#F01E14" stroke-width="0.8"/>
<circle cx="109.43" cy="387.7" r="1.05" fill="none" stroke="#14901E" stroke-width="0.8"/>
<circle cx="164.19" cy="387.7" r="1.05" fill="none" stroke="#14901E" stroke-width="0.8"/>
<path d="M145.81 386.57 L148.31 386.57 L147.06 388.82 Z" fill="#F01E14" fill-opacity="0.6" stroke="#F01E14" stroke-width="0.8"/>
<path d="M96.82 386.57 L99.32 386.57 L98.07 388.82 Z" fill="#F01E14" fill-opacity="0.6" stroke="#F01E14" stroke-width="0.8"/>
<circle cx="228.64" cy="387.7" r="1.05" fill="none" stroke="#14901E" stroke-width="0.8"/>
<circle cx="189.93" cy="355.5" r="1.05" fill="none" stroke="#14901E" stroke-width="0.8"/>
<circle cx="51.4" cy="337.37" r="1.05" fill="none" stroke="#14901E" stroke-width="0.8"/>
<circle cx="89.68" cy="387.7" r="1.05" fill="none" stroke="#14901E" stroke-width="0.8"/>
<circle cx="51.4" cy="386.72" r="1.05" fill="none" stroke="#14901E" stroke-width="0.8"/>
<circle cx="51.4" cy="346.18" r="1.05" fill="none" stroke="#14901E" stroke-width="0.8"/>
<circle cx="257.32" cy="369.12" r="1.05" fill="none" stroke="#14901E" stroke-width="0.8"/>
<circle cx="54.48" cy="387.7" r="1.05" fill="none" stroke="#14901E" stroke-width="0.8"/>
<circle cx="256.9" cy="362.8" r="1.05" fill="none" stroke="#14901E" stroke-width="0.8"/>
<path d="M148.01 328.18 L150.51 328.18 L149.26 330.43 Z" fill="#F01E14" fill-opacity="0.6" stroke="#F01E14" stroke-width="0.8"/>
<path d="M71.38 307.34 L73.88 307.34 L72.63 309.59 Z" fill="#F01E14" fill-opacity="0.6" stroke="#F01E14" stroke-width="0.8"/>
<circle cx="98.15" cy="312.04" r="1.05" fill="none" stroke="#14901E" stroke-width="0.8"/>
<circle cx="152.47" cy="387.7" r="1.05" fill="none" stroke="#14901E" stroke-width="0.8"/>
<path d="M52.26 386.57 L54.76 386.57 L53.51 388.82 Z" fill="#F01E14" fill-opacity="0.6" stroke="#F01E14" stroke-width="0.8"/>
<path d="M255.65 383.38 L258.15 383.38 L256.9 385.62 Z" fill="#F01E14" fill-opacity="0.6" stroke="#F01E14" stroke-width="0.8"/>
<circle cx="83.6" cy="387.7" r="1.05" fill="none" stroke="#14901E" stroke-width="0.8"/>
<circle cx="236.99" cy="367.65" r="1.05" fill="none" stroke="#14901E" stroke-width="0.8"/>
<path d="M50.15 311.76 L52.65 311.76 L51.4 314.01 Z" fill="#F01E14" fill-opacity="0.6" stroke="#F01E14" stroke-width="0.8"/>
<path d="M200.03 359.45 L202.53 359.45 L201.28 361.7 Z" fill="#F01E14" fill-opacity="0.6" stroke="#F01E14" stroke-width="0.8"/>
<path d="M81.33 386.57 L83.83 386.57 L82.58 388.82 Z" fill="#F01E14" fill-opacity="0.6" stroke="#F01E14" stroke-width="0.8"/>
<circle cx="180.27" cy="350.22" r="1.05" fill="none" stroke="#14901E" stroke-width="0.8"/>
<path d="M182.51 386.57 L185.01 386.57 L183.76 388.82 Z" fill="#F01E14" fill-opacity="0.6" stroke="#F01E14" stroke-width="0.8"/>
<path d="M50.15 382.44 L52.65 382.44 L51.4 384.69 Z" fill="#F01E14" fill-opacity="0.6" stroke="#F01E14" stroke-width="0.8"/>
<path d="M50.15 371.03 L52.65 371.03 L51.4 373.28 Z" fill="#F01E14" fill-opacity="0.6" stroke="#F01E14" stroke-width="0.8"/>
<circle cx="252.7" cy="362.3" r="1.05" fill="none" stroke="#14901E" stroke-width="0.8"/>
<path d="M256.05 362.07 L258.55 362.07 L257.3 364.32 Z" fill="#F01E14" fill-opacity="0.6" stroke="#F01E14" stroke-width="0.8"/>
<path d="M253.77 386.57 L256.27 386.57 L255.02 388.82 Z" fill="#F01E14" fill-opacity="0.6" stroke="#F01E14" stroke-width="0.8"/>
<circle cx="51.4" cy="328.12" r="1.05" fill="none" stroke="#14901E" stroke-width="0.8"/>
<circle cx="51.4" cy="362.4" r="1.05" fill="none" stroke="#14901E" stroke-width="0.8"/>
<path d="M50.15 314.01 L52.65 314.01 L51.4 316.26 Z" fill="#F01E14" fill-opacity="0.6" stroke="#F01E14" stroke-width="0.8"/>
<path d="M252.35 360.77 L254.85 360.77 L253.6 363.02 Z" fill="#F01E14" fill-opacity="0.6" stroke="#F01E14" stroke-width="0.8"/>
<path d="M160.33 336.05 L162.83 336.05 L161.58 338.3 Z" fill="#F01E14" fill-opacity="0.6" stroke="#F01E14" stroke-width="0.8"/>
<path d="M99.34 311.41 L101.84 311.41 L100.59 313.66 Z" fill="#F01E14" fill-opacity="0.6" stroke="#F01E14" stroke-width="0.8"/>
<path d="M228.48 365.54 L230.98 365.54 L229.73 367.79 Z" fill="#F01E14" fill-opacity="0.6" stroke="#F01E14" stroke-width="0.8"/>
<path d="M65.83 306.94 L68.33 306.94 L67.08 309.19 Z" fill="#F01E14" fill-opacity="0.6" stroke="#F01E14" stroke-width="0.8"/>
<circle cx="204.23" cy="387.7" r="1.05" fill="none" stroke="#14901E" stroke-width="0.8"/>
<circle cx="64.31" cy="307.92" r="1.05" fill="none" stroke="#14901E" stroke-width="0.8"/>
<circle cx="51.4" cy="308.76" r="1.05" fill="none" stroke="#14901E" stroke-width="0.8"/>
<circle cx="51.4" cy="322.28" r="1.05" fill="none" stroke="#14901E" stroke-width="0.8"/>
<path d="M50.15 344.54 L52.65 344.54 L51.4 346.79 Z" fill="#F01E14" fill-opacity="0.6" stroke="#F01E14" stroke-width="0.8"/>
<circle cx="236.9" cy="367.2" r="1.05" fill="none" stroke="#14901E" stroke-width="0.8"/>
<circle cx="51.4" cy="339.41" r="1.05" fill="none" stroke="#14901E" stroke-width="0.8"/>
<circle cx="51.4" cy="378.8" r="1.05" fill="none" stroke="#14901E" stroke-width="0.8"/>
<path d="M125.33 318.43 L127.83 318.43 L126.58 320.68 Z" fill="#F01E14" fill-opacity="0.6" stroke="#F01E14" stroke-width="0.8"/>
<circle cx="177.3" cy="387.7" r="1.05" fill="none" stroke="#14901E" stroke-width="0.8"/>
<path d="M50.15 351.67 L52.65 351.67 L51.4 353.92 Z" fill="#F01E14" fill-opacity="0.6" stroke="#F01E14" stroke-width="0.8"/>
<circle cx="51.4" cy="367.62" r="1.05" fill="none" stroke="#14901E" stroke-width="0.8"/>
<path d="M183.48 351.63 L185.98 351.63 L184.73 353.88 Z" fill="#F01E14" fill-opacity="0.6" stroke="#F01E14" stroke-width="0.8"/>
<path d="M220.43 386.57 L222.93 386.57 L221.68 388.82 Z" fill="#F01E14" fill-opacity="0.6" stroke="#F01E14" stroke-width="0.8"/>
<circle cx="121.91" cy="387.7" r="1.05" fill="none" stroke="#14901E" stroke-width="0.8"/>
<circle cx="125.23" cy="319.13" r="1.05" fill="none" stroke="#14901E" stroke-width="0.8"/>
<path d="M50.15 377.62 L52.65 377.62 L51.4 379.87 Z" fill="#F01E14" fill-opacity="0.6" stroke="#F01E14" stroke-width="0.8"/>
<path d="M121.08 386.57 L123.58 386.57 L122.33 388.82 Z" fill="#F01E14" fill-opacity="0.6" stroke="#F01E14" stroke-width="0.8"/>
<circle cx="51.4" cy="374.7" r="1.05" fill="none" stroke="#14901E" stroke-width="0.8"/>
<path d="M165.82 339.98 L168.32 339.98 L167.07 342.23 Z" fill="#F01E14" fill-opacity="0.6" stroke="#F01E14" stroke-width="0.8"/>
<path d="M50.15 335.66 L52.65 335.66 L51.4 337.91 Z" fill="#F01E14" fill-opacity="0.6" stroke="#F01E14" stroke-width="0.8"/>
<rect x="36.2" y="231.6" width="231.4" height="171.8" fill="none" stroke="#555" stroke-width="1.3"/>
<text x="51.63" y="413.2" font-size="7.5" text-anchor="middle" fill="#2a2a2a" stroke="#2a2a2a" stroke-width="0.15">0.0</text>
<text x="82.48" y="413.2" font-size="7.5" text-anchor="middle" fill="#2a2a2a" stroke="#2a2a2a" stroke-width="0.15">0.3</text>
<text x="113.33" y="413.2" font-size="7.5" text-anchor="middle" fill="#2a2a2a" stroke="#2a2a2a" stroke-width="0.15">0.6</text>
<text x="144.19" y="413.2" font-size="7.5" text-anchor="middle" fill="#2a2a2a" stroke="#2a2a2a" stroke-width="0.15">0.9</text>
<text x="175.04" y="413.2" font-size="7.5" text-anchor="middle" fill="#2a2a2a" stroke="#2a2a2a" stroke-width="0.15">1.2</text>
<text x="205.89" y="413.2" font-size="7.5" text-anchor="middle" fill="#2a2a2a" stroke="#2a2a2a" stroke-width="0.15">1.5</text>
<text x="236.75" y="413.2" font-size="7.5" text-anchor="middle" fill="#2a2a2a" stroke="#2a2a2a" stroke-width="0.15">1.8</text>
<text x="267.6" y="413.2" font-size="7.5" text-anchor="middle" fill="#2a2a2a" stroke="#2a2a2a" stroke-width="0.15">2.1</text>
<text x="32.7" y="390.28" font-size="7.5" text-anchor="end" fill="#2a2a2a" stroke="#2a2a2a" stroke-width="0.15">0.0</text>
<text x="32.7" y="359.05" font-size="7.5" text-anchor="end" fill="#2a2a2a" stroke="#2a2a2a" stroke-width="0.15">0.3</text>
<text x="32.7" y="327.81" font-size="7.5" text-anchor="end" fill="#2a2a2a" stroke="#2a2a2a" stroke-width="0.15">0.6</text>
<text x="32.7" y="296.57" font-size="7.5" text-anchor="end" fill="#2a2a2a" stroke="#2a2a2a" stroke-width="0.15">0.9</text>
<text x="32.7" y="265.34" font-size="7.5" text-anchor="end" fill="#2a2a2a" stroke="#2a2a2a" stroke-width="0.15">1.2</text>
<text x="32.7" y="234.1" font-size="7.5" text-anchor="end" fill="#2a2a2a" stroke="#2a2a2a" stroke-width="0.15">1.5</text>
<path d="M51.63 403.4 v-3.2 M67.05 403.4 v-1.8 M82.48 403.4 v-3.2 M97.91 403.4 v-1.8 M113.33 403.4 v-3.2 M128.76 403.4 v-1.8 M144.19 403.4 v-3.2 M159.61 403.4 v-1.8 M175.04 403.4 v-3.2 M190.47 403.4 v-1.8 M205.89 403.4 v-3.2 M221.32 403.4 v-1.8 M236.75 403.4 v-3.2 M252.17 403.4 v-1.8 M267.6 403.4 v-3.2 M36.2 387.78 h3.2 M36.2 372.16 h1.8 M36.2 356.55 h3.2 M36.2 340.93 h1.8 M36.2 325.31 h3.2 M36.2 309.69 h1.8 M36.2 294.07 h3.2 M36.2 278.45 h1.8 M36.2 262.84 h3.2 M36.2 247.22 h1.8 M36.2 231.6 h3.2" stroke="#333" stroke-width="0.9" fill="none"/>
<text x="159.5" y="423.3" font-size="9" text-anchor="middle" fill="#111">X(m)</text>
<text transform="translate(19.6 305.1) rotate(-90)" font-size="9.2" text-anchor="middle" fill="#000" stroke="#000" stroke-width="0.1">Y(m)</text>
<text x="4.6" y="218.5" font-size="14.5" fill="#000" stroke="#000" stroke-width="0.25">(c)</text>
<rect x="192.4" y="236.4" width="68.1" height="37.5" fill="#fff" stroke="#c8c8c8" stroke-width="0.6"/>
<path d="M193.9 241.7 h18.6" stroke="#FFA62B" stroke-width="1.5"/>
<path d="M193.9 250.6 h18.6" stroke="#0B5BD3" stroke-width="1.9" stroke-dasharray="4.6 1.9"/>
<path d="M202.05 259.07 L204.55 259.07 L203.3 261.32 Z" fill="#F01E14" fill-opacity="0.6" stroke="#F01E14" stroke-width="0.8"/>
<circle cx="203.3" cy="268.2" r="1.05" fill="none" stroke="#14901E" stroke-width="0.8"/>
<text x="215.3" y="244.1" font-size="7.2" fill="#222" stroke="#222" stroke-width="0.12">INPM random</text>
<text x="215.3" y="253" font-size="7.2" fill="#222" stroke="#222" stroke-width="0.12">INPM uniform</text>
<text x="215.3" y="262.6" font-size="7.2" fill="#222" stroke="#222" stroke-width="0.12">NPM random</text>
<text x="215.3" y="270.6" font-size="7.2" fill="#222" stroke="#222" stroke-width="0.12">NPM uniform</text>
</g>
<g>
<path d="M325 387.7 L325 328.3 L325.56 328.28 L326.24 328.24 L327.03 328.19 L327.96 328.14 L329.03 328.1 L330.25 328.08 L331.64 328.07 L333.2 328.1 L335 328.15 L337.05 328.23 L339.3 328.32 L341.68 328.43 L344.14 328.55 L346.62 328.69 L349.06 328.84 L351.4 329 L353.67 329.18 L355.93 329.38 L358.19 329.6 L360.45 329.83 L362.71 330.07 L364.97 330.31 L367.23 330.56 L369.5 330.8 L371.77 331.04 L374.04 331.27 L376.32 331.5 L378.59 331.74 L380.87 331.99 L383.15 332.25 L385.42 332.52 L387.7 332.8 L390.02 333.11 L392.39 333.43 L394.78 333.77 L397.17 334.12 L399.51 334.47 L401.76 334.82 L403.91 335.17 L405.9 335.5 L407.68 335.81 L409.25 336.1 L410.69 336.38 L412.05 336.66 L413.41 336.95 L414.85 337.26 L416.42 337.61 L418.2 338 L420.19 338.44 L422.34 338.91 L424.6 339.41 L426.94 339.93 L429.32 340.48 L431.72 341.04 L434.09 341.62 L436.4 342.2 L438.67 342.8 L440.93 343.44 L443.19 344.09 L445.45 344.76 L447.71 345.44 L449.97 346.1 L452.23 346.76 L454.5 347.4 L456.81 348.04 L459.17 348.7 L461.55 349.36 L463.93 350.01 L466.27 350.64 L468.53 351.22 L470.68 351.75 L472.7 352.2 L474.58 352.59 L476.36 352.93 L478.04 353.22 L479.64 353.46 L481.18 353.66 L482.66 353.82 L484.09 353.93 L485.5 354 L486.88 354.02 L488.24 353.97 L489.55 353.87 L490.81 353.73 L492 353.56 L493.1 353.38 L494.11 353.19 L495 353 L495.74 352.82 L496.32 352.65 L496.78 352.47 L497.16 352.27 L497.52 352.05 L497.88 351.79 L498.29 351.47 L498.8 351.1 L499.39 350.66 L500.02 350.17 L500.68 349.63 L501.36 349.06 L502.05 348.45 L502.74 347.81 L503.43 347.16 L504.1 346.5 L504.77 345.83 L505.44 345.14 L506.12 344.42 L506.8 343.69 L507.47 342.93 L508.13 342.15 L508.78 341.34 L509.4 340.5 L510.01 339.63 L510.6 338.71 L511.19 337.77 L511.76 336.8 L512.32 335.82 L512.86 334.84 L513.39 333.86 L513.9 332.9 L514.39 332 L514.85 331.18 L515.29 330.38 L515.72 329.57 L516.14 328.7 L516.56 327.73 L516.97 326.61 L517.4 325.3 L517.83 323.77 L518.27 322.05 L518.7 320.19 L519.13 318.23 L519.56 316.2 L519.98 314.16 L520.39 312.14 L520.8 310.2 L521.19 308.35 L521.55 306.55 L521.9 304.77 L522.24 302.98 L522.6 301.14 L522.97 299.22 L523.37 297.19 L523.8 295 L524.29 292.38 L524.85 289.25 L525.44 285.85 L526.04 282.44 L526.64 279.27 L527.19 276.61 L527.69 274.7 L528.1 273.8 L528.43 273.94 L528.69 274.9 L528.9 276.53 L529.08 278.7 L529.22 281.27 L529.35 284.1 L529.47 287.06 L529.6 290 L529.74 293.16 L529.87 296.77 L530 300.69 L530.11 304.78 L530.2 308.9 L530.27 312.9 L530.3 316.65 L530.3 320 L530.23 323.02 L530.1 325.87 L529.92 328.55 L529.72 331.08 L529.52 333.45 L529.36 335.68 L529.24 337.76 L529.2 339.7 L529.25 341.38 L529.37 342.76 L529.53 343.91 L529.73 344.96 L529.94 345.99 L530.13 347.1 L530.29 348.41 L530.4 350 L530.47 351.95 L530.53 354.19 L530.58 356.61 L530.61 359.12 L530.61 361.62 L530.58 364 L530.51 366.16 L530.4 368 L530.21 369.48 L529.92 370.68 L529.58 371.69 L529.22 372.56 L528.87 373.39 L528.58 374.23 L528.38 375.18 L528.3 376.3 L528.38 377.65 L528.58 379.2 L528.87 380.85 L529.22 382.52 L529.58 384.12 L529.92 385.58 L530.21 386.8 L530.4 387.7 L325 387.7" fill="none" stroke="#FFA62B" stroke-width="1.5" stroke-linejoin="round" stroke-linecap="butt"/>
<path d="M325 387.7 L325 329.9 L325.56 329.88 L326.24 329.84 L327.03 329.8 L327.96 329.75 L329.03 329.71 L330.25 329.68 L331.64 329.68 L333.2 329.7 L335 329.75 L337.05 329.82 L339.3 329.9 L341.68 330 L344.14 330.11 L346.62 330.23 L349.06 330.36 L351.4 330.5 L353.67 330.64 L355.93 330.8 L358.19 330.96 L360.45 331.14 L362.71 331.32 L364.97 331.51 L367.23 331.7 L369.5 331.9 L371.77 332.1 L374.04 332.31 L376.32 332.53 L378.59 332.75 L380.87 332.98 L383.15 333.21 L385.42 333.45 L387.7 333.7 L390.02 333.95 L392.39 334.2 L394.78 334.46 L397.17 334.72 L399.51 334.99 L401.76 335.28 L403.91 335.58 L405.9 335.9 L407.68 336.24 L409.25 336.59 L410.69 336.95 L412.05 337.32 L413.41 337.72 L414.85 338.13 L416.42 338.55 L418.2 339 L420.19 339.47 L422.34 339.95 L424.6 340.45 L426.94 340.97 L429.32 341.5 L431.72 342.05 L434.09 342.62 L436.4 343.2 L438.67 343.8 L440.93 344.43 L443.19 345.09 L445.45 345.75 L447.71 346.42 L449.97 347.09 L452.23 347.75 L454.5 348.4 L456.81 349.06 L459.17 349.74 L461.55 350.43 L463.93 351.11 L466.27 351.77 L468.53 352.38 L470.68 352.93 L472.7 353.4 L474.58 353.8 L476.36 354.13 L478.04 354.42 L479.64 354.66 L481.18 354.85 L482.66 355 L484.09 355.12 L485.5 355.2 L486.88 355.24 L488.22 355.22 L489.52 355.16 L490.77 355.06 L491.95 354.93 L493.05 354.79 L494.07 354.64 L495 354.5 L495.8 354.35 L496.46 354.19 L497.02 354.01 L497.51 353.82 L497.97 353.63 L498.44 353.42 L498.93 353.21 L499.5 353 L500.13 352.8 L500.79 352.62 L501.46 352.44 L502.14 352.24 L502.83 352.03 L503.51 351.77 L504.17 351.47 L504.8 351.1 L505.41 350.66 L506.02 350.17 L506.61 349.63 L507.19 349.06 L507.76 348.45 L508.32 347.81 L508.87 347.16 L509.4 346.5 L509.92 345.83 L510.41 345.14 L510.9 344.42 L511.37 343.69 L511.83 342.93 L512.29 342.15 L512.74 341.34 L513.2 340.5 L513.66 339.63 L514.12 338.71 L514.58 337.77 L515.03 336.8 L515.47 335.82 L515.9 334.84 L516.31 333.86 L516.7 332.9 L517.07 332 L517.41 331.18 L517.74 330.38 L518.06 329.57 L518.36 328.7 L518.65 327.73 L518.93 326.61 L519.2 325.3 L519.46 323.76 L519.7 322.01 L519.93 320.1 L520.15 318.1 L520.36 316.05 L520.57 314.02 L520.78 312.05 L521 310.2 L521.21 308.52 L521.4 306.97 L521.59 305.5 L521.78 304.03 L521.98 302.51 L522.19 300.87 L522.43 299.06 L522.7 297 L523 294.69 L523.33 292.19 L523.68 289.52 L524.04 286.73 L524.42 283.85 L524.81 280.91 L525.21 277.95 L525.6 275 L526.02 271.69 L526.48 267.81 L526.95 263.69 L527.43 259.62 L527.89 255.92 L528.32 252.89 L528.7 250.85 L529 250.1 L529.22 250.83 L529.38 252.82 L529.49 255.79 L529.56 259.43 L529.61 263.47 L529.66 267.6 L529.72 271.54 L529.8 275 L529.91 278.09 L530.02 281.13 L530.14 284.15 L530.25 287.18 L530.36 290.25 L530.46 293.4 L530.54 296.64 L530.6 300 L530.65 303.65 L530.68 307.62 L530.71 311.76 L530.73 315.94 L530.72 320 L530.7 323.79 L530.66 327.17 L530.6 330 L530.49 332.21 L530.33 333.91 L530.13 335.21 L529.92 336.25 L529.73 337.13 L529.56 337.97 L529.44 338.89 L529.4 340 L529.44 341.06 L529.56 341.85 L529.73 342.53 L529.92 343.27 L530.13 344.22 L530.33 345.55 L530.49 347.42 L530.6 350 L530.66 353.64 L530.68 358.36 L530.69 363.77 L530.68 369.48 L530.65 375.11 L530.63 380.28 L530.61 384.6 L530.6 387.7 L325 387.7" fill="none" stroke="#0B5BD3" stroke-width="1.9" stroke-dasharray="4.6 1.9" stroke-linejoin="round"/>
<path d="M529.25 327.27 L531.75 327.27 L530.5 329.52 Z" fill="#F01E14" fill-opacity="0.6" stroke="#F01E14" stroke-width="0.8"/>
<path d="M515.86 386.57 L518.36 386.57 L517.11 388.82 Z" fill="#F01E14" fill-opacity="0.6" stroke="#F01E14" stroke-width="0.8"/>
<circle cx="508.3" cy="341.7" r="1.05" fill="none" stroke="#14901E" stroke-width="0.8"/>
<path d="M483.56 386.57 L486.06 386.57 L484.81 388.82 Z" fill="#F01E14" fill-opacity="0.6" stroke="#F01E14" stroke-width="0.8"/>
<circle cx="390.17" cy="333.13" r="1.05" fill="none" stroke="#14901E" stroke-width="0.8"/>
<circle cx="378.27" cy="387.7" r="1.05" fill="none" stroke="#14901E" stroke-width="0.8"/>
<path d="M323.75 328.17 L326.25 328.17 L325 330.42 Z" fill="#F01E14" fill-opacity="0.6" stroke="#F01E14" stroke-width="0.8"/>
<path d="M364.45 386.57 L366.95 386.57 L365.7 388.82 Z" fill="#F01E14" fill-opacity="0.6" stroke="#F01E14" stroke-width="0.8"/>
<path d="M519.95 329.68 L522.45 329.68 L521.2 331.93 Z" fill="#F01E14" fill-opacity="0.6" stroke="#F01E14" stroke-width="0.8"/>
<path d="M334.21 386.57 L336.71 386.57 L335.46 388.82 Z" fill="#F01E14" fill-opacity="0.6" stroke="#F01E14" stroke-width="0.8"/>
<path d="M323.75 377.28 L326.25 377.28 L325 379.53 Z" fill="#F01E14" fill-opacity="0.6" stroke="#F01E14" stroke-width="0.8"/>
<path d="M502.95 341.18 L505.45 341.18 L504.2 343.43 Z" fill="#F01E14" fill-opacity="0.6" stroke="#F01E14" stroke-width="0.8"/>
<path d="M323.75 359.47 L326.25 359.47 L325 361.72 Z" fill="#F01E14" fill-opacity="0.6" stroke="#F01E14" stroke-width="0.8"/>
<circle cx="442.41" cy="343.87" r="1.05" fill="none" stroke="#14901E" stroke-width="0.8"/>
<path d="M323.75 346.48 L326.25 346.48 L325 348.73 Z" fill="#F01E14" fill-opacity="0.6" stroke="#F01E14" stroke-width="0.8"/>
<circle cx="482.45" cy="353.8" r="1.05" fill="none" stroke="#14901E" stroke-width="0.8"/>
<path d="M464.72 386.57 L467.22 386.57 L465.97 388.82 Z" fill="#F01E14" fill-opacity="0.6" stroke="#F01E14" stroke-width="0.8"/>
<path d="M529.15 343.88 L531.65 343.88 L530.4 346.12 Z" fill="#F01E14" fill-opacity="0.6" stroke="#F01E14" stroke-width="0.8"/>
<path d="M323.75 386.36 L326.25 386.36 L325 388.61 Z" fill="#F01E14" fill-opacity="0.6" stroke="#F01E14" stroke-width="0.8"/>
<path d="M390.75 386.57 L393.25 386.57 L392 388.82 Z" fill="#F01E14" fill-opacity="0.6" stroke="#F01E14" stroke-width="0.8"/>
<circle cx="325" cy="361.5" r="1.05" fill="none" stroke="#14901E" stroke-width="0.8"/>
<circle cx="325" cy="387.18" r="1.05" fill="none" stroke="#14901E" stroke-width="0.8"/>
<path d="M342.36 386.57 L344.86 386.57 L343.61 388.82 Z" fill="#F01E14" fill-opacity="0.6" stroke="#F01E14" stroke-width="0.8"/>
<path d="M323.75 341.82 L326.25 341.82 L325 344.07 Z" fill="#F01E14" fill-opacity="0.6" stroke="#F01E14" stroke-width="0.8"/>
<circle cx="325" cy="359.48" r="1.05" fill="none" stroke="#14901E" stroke-width="0.8"/>
<path d="M323.75 370.99 L326.25 370.99 L325 373.24 Z" fill="#F01E14" fill-opacity="0.6" stroke="#F01E14" stroke-width="0.8"/>
<path d="M360.15 328.81 L362.65 328.81 L361.4 331.06 Z" fill="#F01E14" fill-opacity="0.6" stroke="#F01E14" stroke-width="0.8"/>
<circle cx="356.98" cy="387.7" r="1.05" fill="none" stroke="#14901E" stroke-width="0.8"/>
<circle cx="325" cy="366.63" r="1.05" fill="none" stroke="#14901E" stroke-width="0.8"/>
<circle cx="523" cy="315" r="1.05" fill="none" stroke="#14901E" stroke-width="0.8"/>
<path d="M407.21 386.57 L409.71 386.57 L408.46 388.82 Z" fill="#F01E14" fill-opacity="0.6" stroke="#F01E14" stroke-width="0.8"/>
<path d="M323.75 354.04 L326.25 354.04 L325 356.29 Z" fill="#F01E14" fill-opacity="0.6" stroke="#F01E14" stroke-width="0.8"/>
<circle cx="325" cy="352.41" r="1.05" fill="none" stroke="#14901E" stroke-width="0.8"/>
<circle cx="325" cy="380.63" r="1.05" fill="none" stroke="#14901E" stroke-width="0.8"/>
<circle cx="527.5" cy="296.8" r="1.05" fill="none" stroke="#14901E" stroke-width="0.8"/>
<path d="M525.25 311.27 L527.75 311.27 L526.5 313.52 Z" fill="#F01E14" fill-opacity="0.6" stroke="#F01E14" stroke-width="0.8"/>
<path d="M415.74 386.57 L418.24 386.57 L416.99 388.82 Z" fill="#F01E14" fill-opacity="0.6" stroke="#F01E14" stroke-width="0.8"/>
<circle cx="337.48" cy="328.24" r="1.05" fill="none" stroke="#14901E" stroke-width="0.8"/>
<path d="M461.15 343.38 L463.65 343.38 L462.4 345.62 Z" fill="#F01E14" fill-opacity="0.6" stroke="#F01E14" stroke-width="0.8"/>
<circle cx="410.03" cy="336.25" r="1.05" fill="none" stroke="#14901E" stroke-width="0.8"/>
<path d="M323.75 334.01 L326.25 334.01 L325 336.26 Z" fill="#F01E14" fill-opacity="0.6" stroke="#F01E14" stroke-width="0.8"/>
<circle cx="325" cy="348.82" r="1.05" fill="none" stroke="#14901E" stroke-width="0.8"/>
<path d="M493.25 345.38 L495.75 345.38 L494.5 347.62 Z" fill="#F01E14" fill-opacity="0.6" stroke="#F01E14" stroke-width="0.8"/>
<circle cx="325" cy="333.9" r="1.05" fill="none" stroke="#14901E" stroke-width="0.8"/>
<path d="M511.05 337.18 L513.55 337.18 L512.3 339.43 Z" fill="#F01E14" fill-opacity="0.6" stroke="#F01E14" stroke-width="0.8"/>
<path d="M323.75 369.38 L326.25 369.38 L325 371.63 Z" fill="#F01E14" fill-opacity="0.6" stroke="#F01E14" stroke-width="0.8"/>
<circle cx="522.69" cy="387.7" r="1.05" fill="none" stroke="#14901E" stroke-width="0.8"/>
<circle cx="470.08" cy="387.7" r="1.05" fill="none" stroke="#14901E" stroke-width="0.8"/>
<path d="M479.15 346.18 L481.65 346.18 L480.4 348.43 Z" fill="#F01E14" fill-opacity="0.6" stroke="#F01E14" stroke-width="0.8"/>
<circle cx="530.5" cy="335.7" r="1.05" fill="none" stroke="#14901E" stroke-width="0.8"/>
<path d="M528.05 298.88 L530.55 298.88 L529.3 301.12 Z" fill="#F01E14" fill-opacity="0.6" stroke="#F01E14" stroke-width="0.8"/>
<circle cx="325" cy="370.26" r="1.05" fill="none" stroke="#14901E" stroke-width="0.8"/>
<circle cx="361.68" cy="387.7" r="1.05" fill="none" stroke="#14901E" stroke-width="0.8"/>
<path d="M462.83 348.93 L465.33 348.93 L464.08 351.18 Z" fill="#F01E14" fill-opacity="0.6" stroke="#F01E14" stroke-width="0.8"/>
<path d="M446.05 341.27 L448.55 341.27 L447.3 343.52 Z" fill="#F01E14" fill-opacity="0.6" stroke="#F01E14" stroke-width="0.8"/>
<path d="M428.03 386.57 L430.53 386.57 L429.28 388.82 Z" fill="#F01E14" fill-opacity="0.6" stroke="#F01E14" stroke-width="0.8"/>
<circle cx="511.74" cy="387.7" r="1.05" fill="none" stroke="#14901E" stroke-width="0.8"/>
<circle cx="501.8" cy="346.2" r="1.05" fill="none" stroke="#14901E" stroke-width="0.8"/>
<circle cx="516.2" cy="329.8" r="1.05" fill="none" stroke="#14901E" stroke-width="0.8"/>
<circle cx="491" cy="349.8" r="1.05" fill="none" stroke="#14901E" stroke-width="0.8"/>
<circle cx="530.5" cy="373.8" r="1.05" fill="none" stroke="#14901E" stroke-width="0.8"/>
<path d="M511.02 386.57 L513.52 386.57 L512.27 388.82 Z" fill="#F01E14" fill-opacity="0.6" stroke="#F01E14" stroke-width="0.8"/>
<path d="M523.35 321.77 L525.85 321.77 L524.6 324.02 Z" fill="#F01E14" fill-opacity="0.6" stroke="#F01E14" stroke-width="0.8"/>
<circle cx="333.16" cy="387.7" r="1.05" fill="none" stroke="#14901E" stroke-width="0.8"/>
<circle cx="325" cy="337.19" r="1.05" fill="none" stroke="#14901E" stroke-width="0.8"/>
<path d="M323.75 336.52 L326.25 336.52 L325 338.77 Z" fill="#F01E14" fill-opacity="0.6" stroke="#F01E14" stroke-width="0.8"/>
<path d="M424.88 338.62 L427.38 338.62 L426.13 340.87 Z" fill="#F01E14" fill-opacity="0.6" stroke="#F01E14" stroke-width="0.8"/>
<circle cx="419.85" cy="387.7" r="1.05" fill="none" stroke="#14901E" stroke-width="0.8"/>
<path d="M323.75 357.88 L326.25 357.88 L325 360.13 Z" fill="#F01E14" fill-opacity="0.6" stroke="#F01E14" stroke-width="0.8"/>
<path d="M529.35 378.88 L531.85 378.88 L530.6 381.12 Z" fill="#F01E14" fill-opacity="0.6" stroke="#F01E14" stroke-width="0.8"/>
<path d="M323.75 381.12 L326.25 381.12 L325 383.37 Z" fill="#F01E14" fill-opacity="0.6" stroke="#F01E14" stroke-width="0.8"/>
<circle cx="325" cy="379.07" r="1.05" fill="none" stroke="#14901E" stroke-width="0.8"/>
<circle cx="359.98" cy="329.78" r="1.05" fill="none" stroke="#14901E" stroke-width="0.8"/>
<circle cx="530.3" cy="295.3" r="1.05" fill="none" stroke="#14901E" stroke-width="0.8"/>
<circle cx="462.56" cy="349.64" r="1.05" fill="none" stroke="#14901E" stroke-width="0.8"/>
<circle cx="325" cy="373.53" r="1.05" fill="none" stroke="#14901E" stroke-width="0.8"/>
<circle cx="448.7" cy="343.6" r="1.05" fill="none" stroke="#14901E" stroke-width="0.8"/>
<circle cx="325" cy="347.35" r="1.05" fill="none" stroke="#14901E" stroke-width="0.8"/>
<path d="M528.85 363.38 L531.35 363.38 L530.1 365.62 Z" fill="#F01E14" fill-opacity="0.6" stroke="#F01E14" stroke-width="0.8"/>
<path d="M323.75 366.45 L326.25 366.45 L325 368.7 Z" fill="#F01E14" fill-opacity="0.6" stroke="#F01E14" stroke-width="0.8"/>
<path d="M484.41 352.88 L486.91 352.88 L485.66 355.13 Z" fill="#F01E14" fill-opacity="0.6" stroke="#F01E14" stroke-width="0.8"/>
<circle cx="439.95" cy="387.7" r="1.05" fill="none" stroke="#14901E" stroke-width="0.8"/>
<circle cx="530.3" cy="286.2" r="1.05" fill="none" stroke="#14901E" stroke-width="0.8"/>
<path d="M448.93 386.57 L451.43 386.57 L450.18 388.82 Z" fill="#F01E14" fill-opacity="0.6" stroke="#F01E14" stroke-width="0.8"/>
<circle cx="408.69" cy="387.7" r="1.05" fill="none" stroke="#14901E" stroke-width="0.8"/>
<circle cx="495.1" cy="387.7" r="1.05" fill="none" stroke="#14901E" stroke-width="0.8"/>
<circle cx="469.1" cy="347.6" r="1.05" fill="none" stroke="#14901E" stroke-width="0.8"/>
<circle cx="325" cy="329.34" r="1.05" fill="none" stroke="#14901E" stroke-width="0.8"/>
<circle cx="325" cy="340.76" r="1.05" fill="none" stroke="#14901E" stroke-width="0.8"/>
<path d="M340.78 327.32 L343.28 327.32 L342.03 329.57 Z" fill="#F01E14" fill-opacity="0.6" stroke="#F01E14" stroke-width="0.8"/>
<path d="M411.21 335.62 L413.71 335.62 L412.46 337.87 Z" fill="#F01E14" fill-opacity="0.6" stroke="#F01E14" stroke-width="0.8"/>
<path d="M323.75 349.54 L326.25 349.54 L325 351.79 Z" fill="#F01E14" fill-opacity="0.6" stroke="#F01E14" stroke-width="0.8"/>
<path d="M379.83 330.89 L382.33 330.89 L381.08 333.14 Z" fill="#F01E14" fill-opacity="0.6" stroke="#F01E14" stroke-width="0.8"/>
<circle cx="457.37" cy="387.7" r="1.05" fill="none" stroke="#14901E" stroke-width="0.8"/>
<circle cx="525.6" cy="306.7" r="1.05" fill="none" stroke="#14901E" stroke-width="0.8"/>
<circle cx="530.5" cy="355" r="1.05" fill="none" stroke="#14901E" stroke-width="0.8"/>
<rect x="309.6" y="231.6" width="231.2" height="171.8" fill="none" stroke="#555" stroke-width="1.3"/>
<text x="325.01" y="413.2" font-size="7.5" text-anchor="middle" fill="#2a2a2a" stroke="#2a2a2a" stroke-width="0.15">0.0</text>
<text x="355.84" y="413.2" font-size="7.5" text-anchor="middle" fill="#2a2a2a" stroke="#2a2a2a" stroke-width="0.15">0.3</text>
<text x="386.67" y="413.2" font-size="7.5" text-anchor="middle" fill="#2a2a2a" stroke="#2a2a2a" stroke-width="0.15">0.6</text>
<text x="417.49" y="413.2" font-size="7.5" text-anchor="middle" fill="#2a2a2a" stroke="#2a2a2a" stroke-width="0.15">0.9</text>
<text x="448.32" y="413.2" font-size="7.5" text-anchor="middle" fill="#2a2a2a" stroke="#2a2a2a" stroke-width="0.15">1.2</text>
<text x="479.15" y="413.2" font-size="7.5" text-anchor="middle" fill="#2a2a2a" stroke="#2a2a2a" stroke-width="0.15">1.5</text>
<text x="509.97" y="413.2" font-size="7.5" text-anchor="middle" fill="#2a2a2a" stroke="#2a2a2a" stroke-width="0.15">1.8</text>
<text x="540.8" y="413.2" font-size="7.5" text-anchor="middle" fill="#2a2a2a" stroke="#2a2a2a" stroke-width="0.15">2.1</text>
<text x="306.1" y="390.28" font-size="7.5" text-anchor="end" fill="#2a2a2a" stroke="#2a2a2a" stroke-width="0.15">0.0</text>
<text x="306.1" y="359.05" font-size="7.5" text-anchor="end" fill="#2a2a2a" stroke="#2a2a2a" stroke-width="0.15">0.3</text>
<text x="306.1" y="327.81" font-size="7.5" text-anchor="end" fill="#2a2a2a" stroke="#2a2a2a" stroke-width="0.15">0.6</text>
<text x="306.1" y="296.57" font-size="7.5" text-anchor="end" fill="#2a2a2a" stroke="#2a2a2a" stroke-width="0.15">0.9</text>
<text x="306.1" y="265.34" font-size="7.5" text-anchor="end" fill="#2a2a2a" stroke="#2a2a2a" stroke-width="0.15">1.2</text>
<text x="306.1" y="234.1" font-size="7.5" text-anchor="end" fill="#2a2a2a" stroke="#2a2a2a" stroke-width="0.15">1.5</text>
<path d="M325.01 403.4 v-3.2 M340.43 403.4 v-1.8 M355.84 403.4 v-3.2 M371.25 403.4 v-1.8 M386.67 403.4 v-3.2 M402.08 403.4 v-1.8 M417.49 403.4 v-3.2 M432.91 403.4 v-1.8 M448.32 403.4 v-3.2 M463.73 403.4 v-1.8 M479.15 403.4 v-3.2 M494.56 403.4 v-1.8 M509.97 403.4 v-3.2 M525.39 403.4 v-1.8 M540.8 403.4 v-3.2 M309.6 387.78 h3.2 M309.6 372.16 h1.8 M309.6 356.55 h3.2 M309.6 340.93 h1.8 M309.6 325.31 h3.2 M309.6 309.69 h1.8 M309.6 294.07 h3.2 M309.6 278.45 h1.8 M309.6 262.84 h3.2 M309.6 247.22 h1.8 M309.6 231.6 h3.2" stroke="#333" stroke-width="0.9" fill="none"/>
<text x="432.4" y="423.3" font-size="9" text-anchor="middle" fill="#111">X(m)</text>
<text transform="translate(292 305.3) rotate(-90)" font-size="9.2" text-anchor="middle" fill="#000" stroke="#000" stroke-width="0.1">Y(m)</text>
<text x="278.6" y="218.6" font-size="14.5" fill="#000" stroke="#000" stroke-width="0.25">(d)</text>
<rect x="450.4" y="236.4" width="68.1" height="37.5" fill="#fff" stroke="#c8c8c8" stroke-width="0.6"/>
<path d="M451.9 241.7 h18.6" stroke="#FFA62B" stroke-width="1.5"/>
<path d="M451.9 250.6 h18.6" stroke="#0B5BD3" stroke-width="1.9" stroke-dasharray="4.6 1.9"/>
<path d="M460.05 259.07 L462.55 259.07 L461.3 261.32 Z" fill="#F01E14" fill-opacity="0.6" stroke="#F01E14" stroke-width="0.8"/>
<circle cx="461.3" cy="268.2" r="1.05" fill="none" stroke="#14901E" stroke-width="0.8"/>
<text x="473.3" y="244.1" font-size="7.2" fill="#222" stroke="#222" stroke-width="0.12">INPM random</text>
<text x="473.3" y="253" font-size="7.2" fill="#222" stroke="#222" stroke-width="0.12">INPM uniform</text>
<text x="473.3" y="262.6" font-size="7.2" fill="#222" stroke="#222" stroke-width="0.12">NPM random</text>
<text x="473.3" y="270.6" font-size="7.2" fill="#222" stroke="#222" stroke-width="0.12">NPM uniform</text>
</g>
</svg>
</body></html>
